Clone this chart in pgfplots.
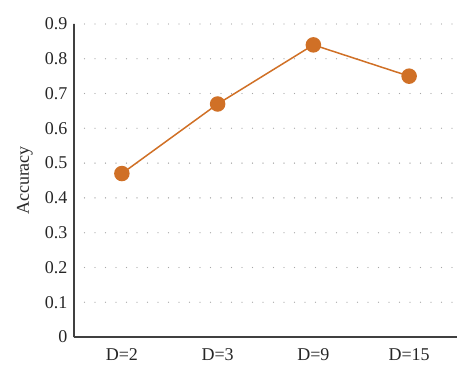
\documentclass[border=0pt]{standalone}
\usepackage{pgfplots}
\pgfplotsset{compat=1.18}
\usepackage{fontspec}
\setmainfont{Liberation Serif}
\definecolor{orng}{RGB}{208,112,38}
\begin{document}
\begin{tikzpicture}
\useasboundingbox (-74pt,-42pt) rectangle (400pt,337pt);
\begin{axis}[
  at={(0,0)}, anchor=south west,
  scale only axis,
  width=383pt, height=313pt,
  xmin=-0.5, xmax=3.5,
  ymin=0, ymax=0.9,
  xtick={0,1,2,3},
  xticklabels={D=2,D=3,D=9,D=15},
  ytick={0,0.1,...,0.9},
  yticklabel style={/pgf/number format/fixed,/pgf/number format/precision=1},
  /pgf/number format/assume math mode=true,
  axis x line*=bottom, axis y line*=left,
  axis line style={line width=1.2pt, color=black!75},
  x axis line style={-}, y axis line style={-},
  major tick length=0pt,
  ymajorgrids,
  major grid style={gray!70, line width=1.3pt, dash pattern=on 0pt off 10.5pt, line cap=round},
  tick label style={font=\fontsize{18}{20}\selectfont, color=black!85},
  ylabel={Accuracy},
  label style={font=\fontsize{18}{20}\selectfont, color=black!85},
  ylabel style={at={(axis description cs:-0.128,0.5)}, anchor=center},
  xticklabel style={yshift=-8pt},
  yticklabel style={xshift=-3pt},
  clip=false,
]
\addplot[color=orng, line width=1.5pt, mark=*, mark size=7pt, mark options={fill=orng, draw=orng}]
  coordinates {(0,0.47) (1,0.67) (2,0.84) (3,0.75)};
\end{axis}
\end{tikzpicture}
\end{document}
